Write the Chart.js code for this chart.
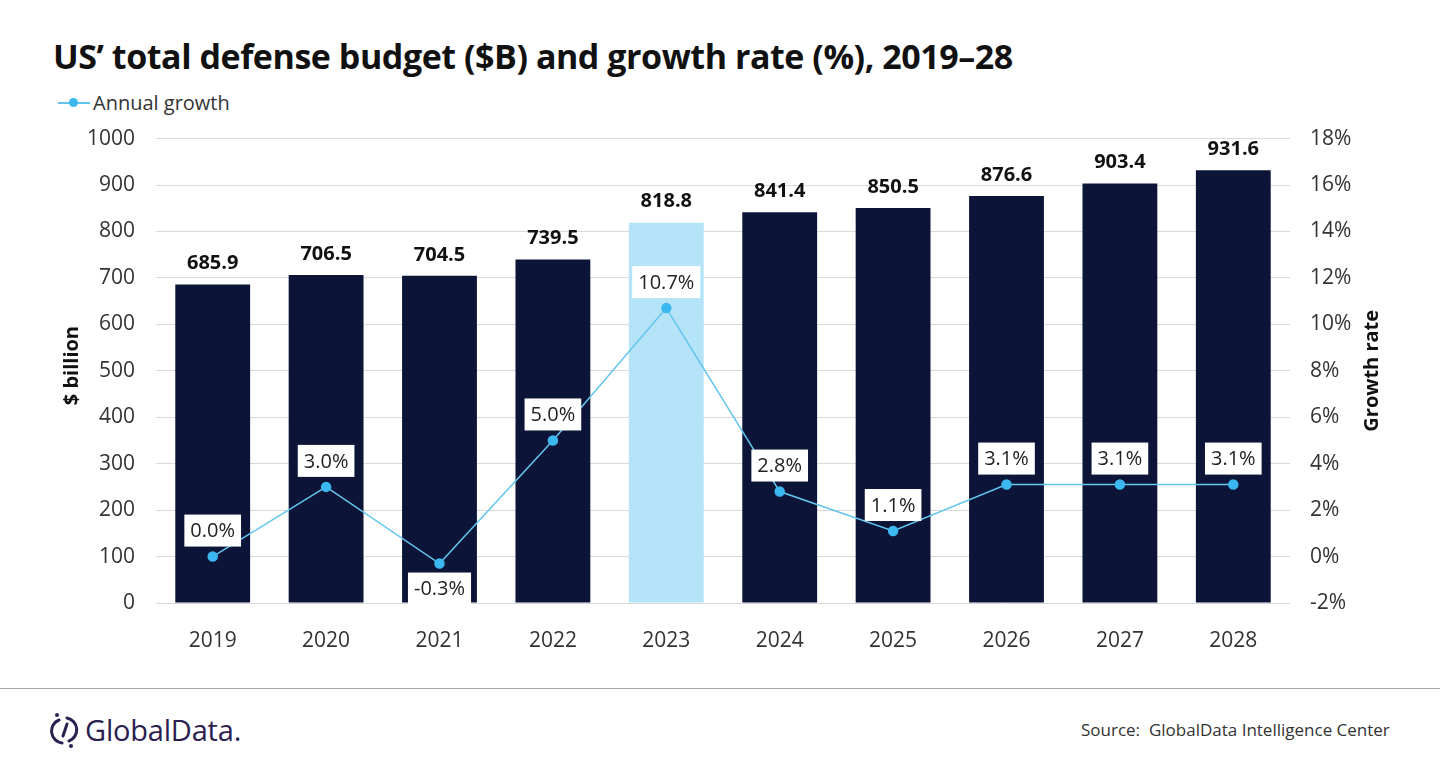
<!DOCTYPE html>
<html>
<head>
<meta charset="utf-8">
<script src="https://cdn.jsdelivr.net/npm/chart.js@4"></script>
<style>
  body { margin: 0; width: 1440px; height: 771px; background: #fff; font-family: 'Open Sans', sans-serif; position: relative; overflow: hidden; }
  #title { position: absolute; left: 53px; top: 33px; font-size: 34px; font-weight: 700; color: #111; letter-spacing: -0.45px; white-space: nowrap; }
  #legend { position: absolute; left: 58px; top: 89px; font-size: 20px; color: #333; display: flex; align-items: center; }
  #legend .mk { position: relative; width: 32px; height: 2px; background: #5fc4ec; margin-right: 3px; }
  #legend .mk::after { content: ''; position: absolute; left: 11px; top: -4px; width: 9px; height: 9px; border-radius: 50%; background: #3bb8f0; }
  #wrap { position: absolute; left: 0; top: 105px; width: 1440px; height: 555px; }
  #sep { position: absolute; left: 0; top: 688px; width: 1440px; height: 1px; background: #a6a6a6; }
  #logo { position: absolute; left: 50px; top: 710px; display: flex; align-items: center; color: #2b2150; font-size: 29px; font-weight: 500; letter-spacing: -0.2px; }
  #logo svg { margin-right: 5px; }
  #source { position: absolute; left: 1081px; top: 718px; font-size: 17px; color: #333; white-space: pre; }
</style>
</head>
<body>
<div id="title">US’ total defense budget ($B) and growth rate (%), 2019–28</div>
<div id="legend"><span class="mk"></span>Annual growth</div>
<div id="wrap"><canvas id="defenseChart"></canvas></div>
<div id="sep"></div>
<div id="logo">
  <svg width="30" height="36" viewBox="0 0 30 36">
    <path d="M9 8 A12 12 0 0 0 12 31" fill="none" stroke="#2b2150" stroke-width="3" stroke-linecap="round"/>
    <path d="M19 29 A12 12 0 0 0 17 6" fill="none" stroke="#2b2150" stroke-width="3" stroke-linecap="round"/>
    <path d="M17 12 L13 24" fill="none" stroke="#2b2150" stroke-width="3" stroke-linecap="round"/>
    <circle cx="7" cy="3" r="2" fill="#2b2150"/>
    <circle cx="21" cy="34" r="2" fill="#2b2150"/>
  </svg>GlobalData.
</div>
<div id="source">Source:  GlobalData Intelligence Center</div>
<script>
const years = ['2019', '2020', '2021', '2022', '2023', '2024', '2025', '2026', '2027', '2028'];
const budget = [685.9, 706.5, 704.5, 739.5, 818.8, 841.4, 850.5, 876.6, 903.4, 931.6];
const growth = [0.0, 3.0, -0.3, 5.0, 10.7, 2.8, 1.1, 3.1, 3.1, 3.1];
const highlightYear = '2023';

const FONT = "'Open Sans', sans-serif";
const NAVY = '#0c1538';
const LIGHT = '#b5e3f8';

const labelPlugin = {
    id: 'labels',
    afterDatasetsDraw(chart) {
        const c = chart.ctx;
        const barMeta = chart.getDatasetMeta(0);
        const lineMeta = chart.getDatasetMeta(1);
        c.save();
        // bar values
        c.font = 'bold 20px ' + FONT;
        c.fillStyle = '#111';
        c.textAlign = 'center';
        c.textBaseline = 'middle';
        barMeta.data.forEach((bar, i) => {
            c.fillText(budget[i].toFixed(1), bar.x, bar.y - 21);
        });
        // growth labels in white boxes
        c.font = '20px ' + FONT;
        lineMeta.data.forEach((pt, i) => {
            const txt = growth[i].toFixed(1) + '%';
            const w = c.measureText(txt).width + 12;
            const h = 32;
            const cy = growth[i] < 0 ? pt.y + 25 : pt.y - 26;
            c.fillStyle = '#fff';
            c.fillRect(pt.x - w / 2, cy - h / 2, w, h);
            c.fillStyle = '#222';
            c.fillText(txt, pt.x, cy + 1);
        });
        c.restore();

        // axis titles
        const a = chart.chartArea;
        c.save();
        c.font = 'bold 20px ' + FONT;
        c.fillStyle = '#111';
        c.textAlign = 'center';
        c.textBaseline = 'middle';
        c.translate(72, a.top + 227);
        c.rotate(-Math.PI / 2);
        c.fillText('$ billion', 0, 0);
        c.restore();
        c.save();
        c.font = 'bold 20px ' + FONT;
        c.fillStyle = '#111';
        c.textAlign = 'center';
        c.textBaseline = 'middle';
        c.translate(1372, (a.top + a.bottom) / 2);
        c.rotate(-Math.PI / 2);
        c.fillText('Growth rate', 0, 0);
        c.restore();
    }
};

new Chart(document.getElementById('defenseChart'), {
    data: {
        labels: years,
        datasets: [
            {
                type: 'bar',
                label: '$ billion',
                data: budget,
                yAxisID: 'y',
                order: 2,
                backgroundColor: years.map(y => y === highlightYear ? LIGHT : NAVY),
                barPercentage: 1,
                categoryPercentage: 0.66
            },
            {
                type: 'line',
                label: 'Annual growth',
                data: growth,
                yAxisID: 'y1',
                order: 1,
                borderColor: '#62c6ee',
                borderWidth: 1.5,
                pointBackgroundColor: '#3bb8f0',
                pointBorderColor: '#3bb8f0',
                pointRadius: 4.5,
                tension: 0
            }
        ]
    },
    options: {
        responsive: true,
        maintainAspectRatio: false,
        animation: false,
        layout: { padding: { top: 5, left: 0, right: 0, bottom: 0 } },
        plugins: {
            legend: { display: false },
            tooltip: { enabled: false }
        },
        scales: {
            x: {
                grid: { display: false },
                border: { display: false },
                ticks: { font: { family: FONT, size: 21 }, color: '#333', padding: 17 },
                afterFit: s => { s.height = 57; }
            },
            y: {
                position: 'left',
                min: 0,
                max: 1000,
                border: { display: false },
                grid: { color: '#d9d9d9', drawTicks: false },
                ticks: { stepSize: 100, font: { family: FONT, size: 21 }, color: '#333', padding: 21, callback: v => String(v) },
                afterFit: s => { s.width = 156; }
            },
            y1: {
                position: 'right',
                min: -2,
                max: 18,
                border: { display: false },
                grid: { display: false, drawTicks: false },
                ticks: { stepSize: 2, font: { family: FONT, size: 21 }, color: '#333', padding: 20, callback: v => v + '%' },
                afterFit: s => { s.width = 150; }
            }
        }
    },
    plugins: [labelPlugin]
});
</script>
</body>
</html>
